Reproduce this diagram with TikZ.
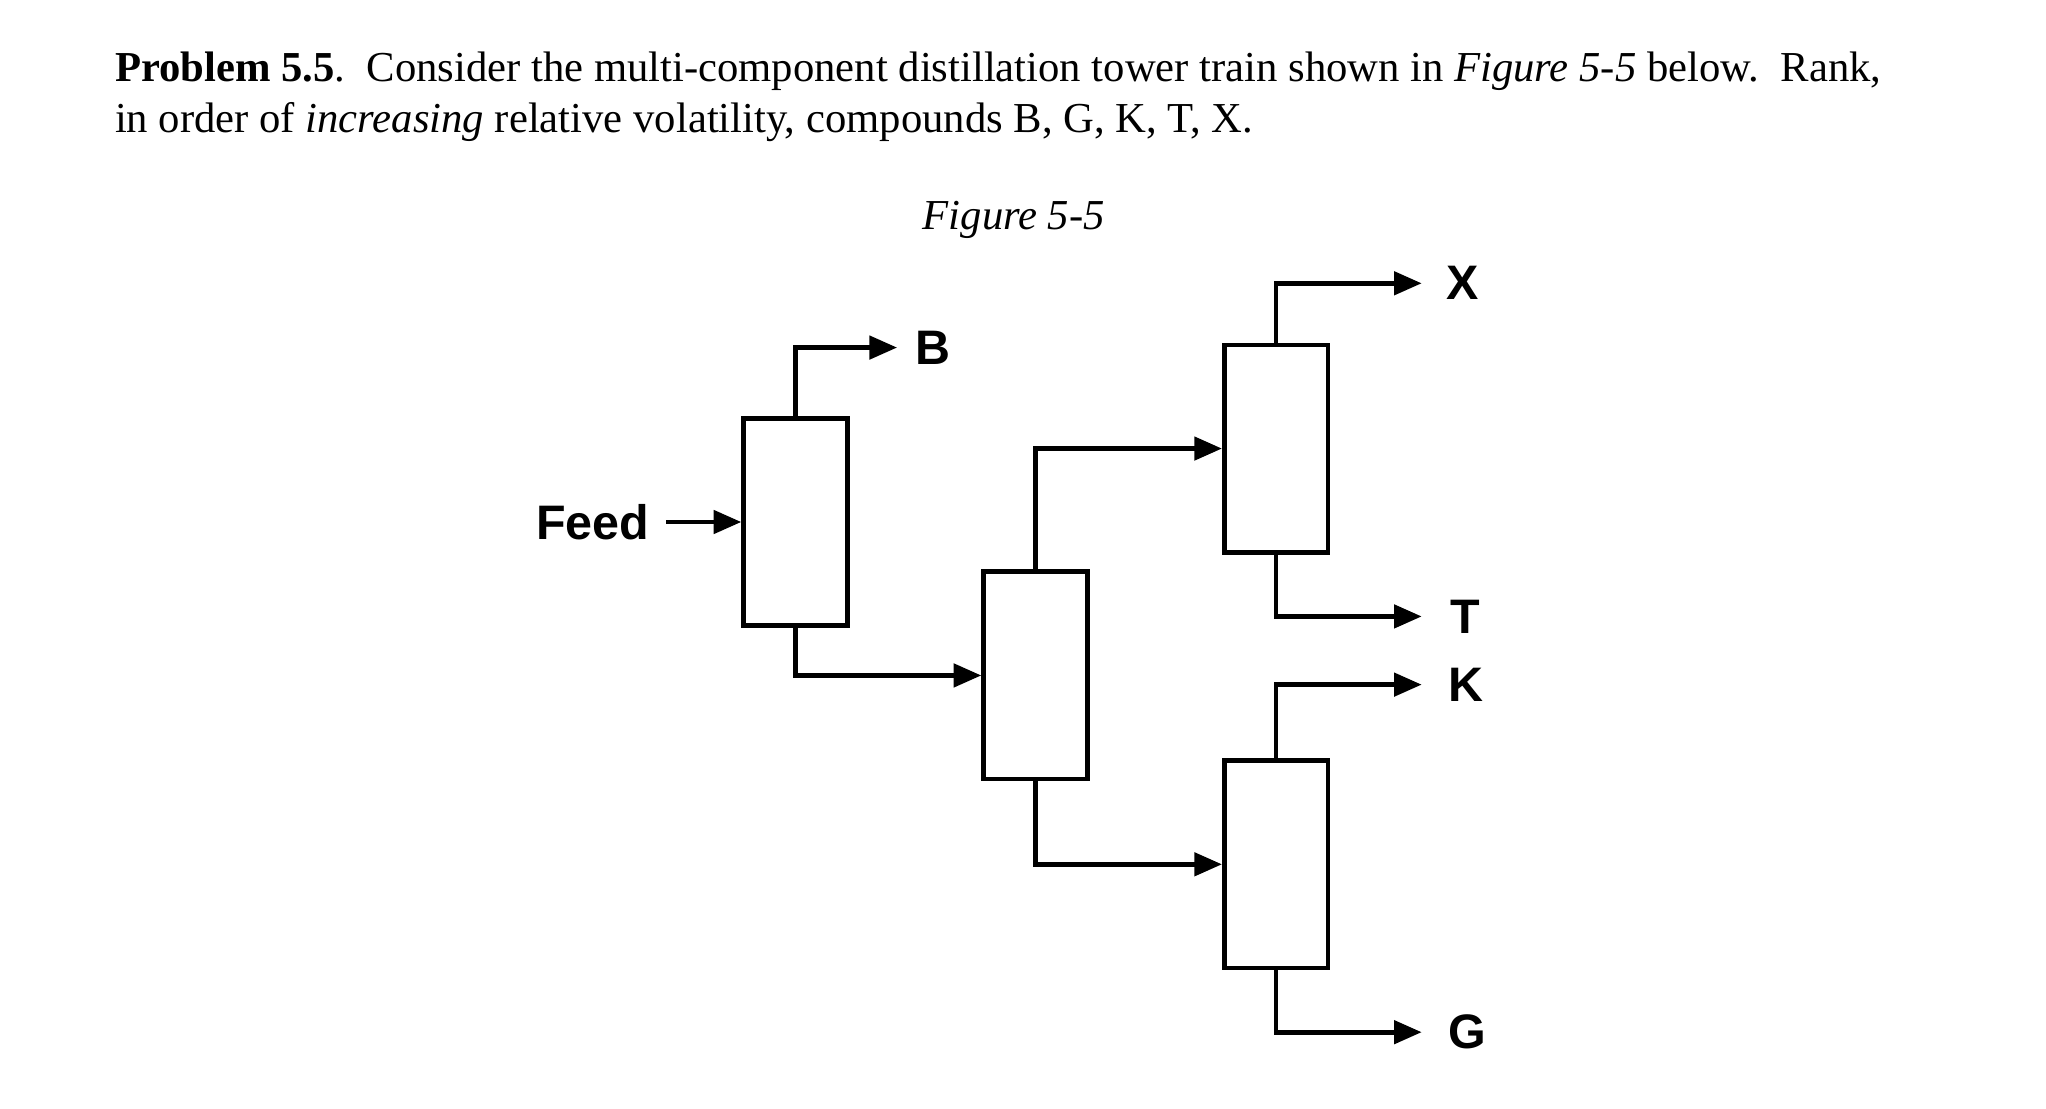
\documentclass[tikz,border=0pt]{standalone}
\usepackage{fontspec}
\setmainfont{Liberation Serif}
\newfontfamily\lsans{Liberation Sans}
\usetikzlibrary{arrows.meta}
\begin{document}
\begin{tikzpicture}[x=0.01cm,y=-0.01cm,
  tower/.style={draw,line width=1pt,minimum width=0.79cm,minimum height=1.58cm,inner sep=0pt},
  flow/.style={line width=1pt,-{Triangle[length=6pt,width=5pt]}},
  lab/.style={font=\lsans\bfseries\fontsize{10.5}{12}\selectfont,inner sep=0pt},
  txt/.style={font=\fontsize{9.25}{11}\selectfont,anchor=base west,inner sep=0pt}]
\useasboundingbox (0,0) rectangle (1560,845);
\node[txt] (l1) at (87,62) {\textbf{Problem 5.5}.\ \ Consider the multi-component distillation tower train shown in \textit{Figure 5-5} below.\ \ Rank,};
\node[txt] (l2) at (87,101) {in order of \textit{increasing} relative volatility, compounds B, G, K, T, X.};
\node[font=\itshape\fontsize{9.25}{11}\selectfont] (fig) at (773,168) {Figure 5-5};
\node[tower] (t1) at (606.5,398) {};
\node[tower] (t2) at (789.5,515) {};
\node[tower] (t3) at (973,342) {};
\node[tower] (t4) at (973,659) {};
\node[lab] (feed) at (452,398) {Feed};
\node[lab] (B) at (711,265) {B};
\node[lab] (X) at (1115,216) {X};
\node[lab] (T) at (1117,470) {T};
\node[lab] (K) at (1118,522) {K};
\node[lab] (G) at (1119,787) {G};
\coordinate (fs) at (508,398);
\coordinate (be) at (684,265);
\coordinate (xe) at (1084,216);
\coordinate (te) at (1084,470);
\coordinate (ke) at (1084,522);
\coordinate (ge) at (1084,787);
\draw[flow] (fs) -- (t1.west);
\draw[flow] (t1.north) |- (be);
\draw[flow] (t1.south) |- (t2.west);
\draw[flow] (t2.north) |- (t3.west);
\draw[flow] (t2.south) |- (t4.west);
\draw[flow] (t3.north) |- (xe);
\draw[flow] (t3.south) |- (te);
\draw[flow] (t4.north) |- (ke);
\draw[flow] (t4.south) |- (ge);
\end{tikzpicture}
\end{document}
